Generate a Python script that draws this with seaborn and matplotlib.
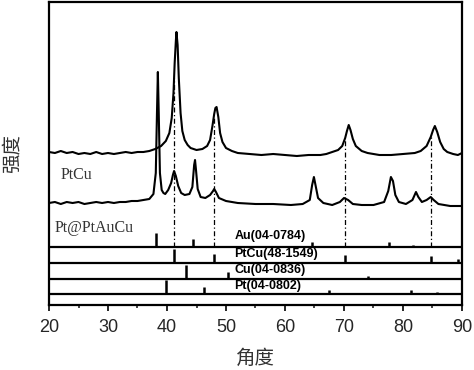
"""
XRD patterns of PtCu and Pt@PtAuCu with reference cards (Au, PtCu, Cu, Pt).
Saves out.png (474x370).
"""

import numpy as np
import pandas as pd
import matplotlib
matplotlib.use("Agg")
import matplotlib.pyplot as plt
import seaborn as sns
from matplotlib.ticker import MultipleLocator


# --- measured patterns (2theta, intensity above each curve's own baseline) ---
ptcu_angle = [20, 21, 22, 23, 24, 25, 26, 27, 28, 29, 30, 31, 32, 33, 34, 35, 36, 37,
              38, 39, 39.8, 40.4, 40.8, 41.1, 41.3, 41.5, 41.6, 41.8, 42.0, 42.3,
              42.6, 43, 43.5, 44, 45, 46, 46.8, 47.3, 47.7, 48.0, 48.2, 48.4, 48.7,
              49.0, 49.4, 50, 51, 52, 54, 56, 58, 60, 62, 64, 66, 67, 68, 69, 69.7,
              70.2, 70.5, 70.8, 71.1, 71.5, 72, 73, 74, 76, 78, 80, 82, 83, 84, 84.7,
              85.1, 85.4, 85.8, 86.3, 86.9, 87.5, 88.5, 89.3, 90]
ptcu_int = [1, 0, 2, 0, 1, -1, 0, -1, 1, -1, 0, -1, 0, 1, 0, 1, 1, 2,
            4, 7, 12, 20, 35, 60, 90, 112, 121, 108, 75, 40,
            22, 13, 8, 5, 3, 4, 7, 13, 27, 39, 45, 46, 36,
            20, 11, 5, 2, 0, -1, -2, -1, -2, -3, -2, -2, -1, 1, 3, 7,
            15, 22, 28, 23, 14, 7, 2, 0, -2, -2, -1, 0, 2, 7, 16,
            23, 27, 21, 11, 4, 1, -1, -2, 0]

pt_ptaucu_angle = [20, 21, 22, 23, 24, 25, 26, 27, 28, 29, 30, 31, 32, 33, 34, 35, 36,
                   37, 37.7, 38.1, 38.3, 38.45, 38.6, 38.8, 39.1, 39.4, 39.7, 40.2,
                   40.7, 41.0, 41.2, 41.5, 41.9, 42.4, 43, 43.8, 44.3, 44.6, 44.75,
                   44.9, 45.2, 45.7, 46.5, 47.3, 47.8, 48.0, 48.3, 48.8, 50, 52, 55,
                   58, 61, 63, 64.2, 64.6, 64.9, 65.2, 65.6, 66.5, 68, 69.3, 70.0,
                   70.7, 71.5, 73, 75, 76.8, 77.5, 77.95, 78.3, 78.7, 79.3, 80.5, 81.6,
                   82.2, 82.6, 83.2, 84.0, 84.7, 85.2, 86, 87, 88, 89, 90]
pt_ptaucu_int = [0, 1, -1, 1, 0, 1, -1, 0, 1, 0, 1, 0, 1, 1, 2, 2, 3,
                 4, 9, 30, 90, 131, 90, 30, 13, 10, 9, 13,
                 20, 28, 32, 27, 17, 10, 8, 9, 16, 38, 43,
                 34, 14, 6, 5, 8, 12, 14, 11, 5, 2, 0, -1,
                 -1, -2, -1, 3, 18, 26, 17, 5, 0, -2, 1, 5,
                 3, -1, -2, -2, 1, 12, 26, 22, 8, 1, -1, 3,
                 11, 6, 1, 3, 6, 3, -1, -2, -3, -3, -3]

# --- reference stick patterns (2theta, relative height) ---
au_pos = [38.18, 44.39, 64.58, 77.55, 81.72]
au_h = [14, 8, 5, 5, 2]
ptcu_ref_pos = [41.2, 47.9, 70.1, 84.7, 89.4]
ptcu_ref_h = [14, 9, 8, 7, 4]
cu_pos = [43.3, 50.4, 74.1]
cu_h = [14, 7, 3]
pt_pos = [39.76, 46.24, 67.45, 81.29, 85.71]
pt_h = [14, 7, 4, 4, 2]

card_names = ["Au(04-0784)", "PtCu(48-1549)", "Cu(04-0836)", "Pt(04-0802)"]
guide_pos = [41.2, 47.9, 70.1, 84.7]   # dash-dot guides from PtCu peaks to card

# layout (y in axes-pixel units)
PTCU_BASE = 152
PTAUCU_BASE = 102
CARD_BASES = [58, 42.5, 26.5, 11]
CARD_TEXT_LIFT = [7.5, 5, 6, 5]


sns.set_theme(style="white")
plt.rcParams["font.family"] = ["Liberation Sans", "Noto Sans CJK SC", "DejaVu Sans"]

fig = plt.figure(figsize=(4.74, 3.70), dpi=100)
ax = fig.add_axes([49 / 474, 65 / 370, 413 / 474, 303 / 370])

top = pd.DataFrame({"angle": ptcu_angle, "y": np.array(ptcu_int) + PTCU_BASE})
low = pd.DataFrame({"angle": pt_ptaucu_angle,
                    "y": np.array(pt_ptaucu_int) + PTAUCU_BASE})
sns.lineplot(data=top, x="angle", y="y", color="black", lw=1.5, ax=ax)
sns.lineplot(data=low, x="angle", y="y", color="black", lw=1.5, ax=ax)

# reference cards
cards = [(au_pos, au_h), (ptcu_ref_pos, ptcu_ref_h), (cu_pos, cu_h), (pt_pos, pt_h)]
for (pos, h), base, lift, name in zip(cards, CARD_BASES, CARD_TEXT_LIFT, card_names):
    ax.axhline(base, color="black", lw=1.6)
    ax.vlines(pos, base, base + np.array(h), color="black", lw=1.8)
    ax.text(51.4, base + lift, name, fontsize=9, fontweight="bold",
            ha="left", va="baseline", color="black")

# guides from the PtCu peaks down to the PtCu card
guide_top = np.interp(guide_pos, ptcu_angle, ptcu_int) + PTCU_BASE
ax.vlines(guide_pos, CARD_BASES[0], guide_top, color="black", lw=0.9,
          linestyles=(0, (4, 2, 1, 2)))

ax.text(21.9, 130, "PtCu", family="Liberation Serif", fontsize=11.5,
        color="#333333", va="center")
ax.text(20.9, 77, "Pt@PtAuCu", family="Liberation Serif", fontsize=11.5,
        color="#333333", va="center")

ax.set_xlim(20, 90)
ax.set_ylim(0, 303)
ax.set_yticks([])
ax.xaxis.set_major_locator(MultipleLocator(10))
ax.xaxis.set_minor_locator(MultipleLocator(5))
ax.tick_params(axis="x", which="major", direction="out", length=4, width=1.4,
               labelsize=13, pad=6, bottom=True)
ax.tick_params(axis="x", which="minor", direction="out", length=2.5, width=1.2,
               bottom=True)
for s in ax.spines.values():
    s.set_linewidth(1.6)
    s.set_color("black")

ax.set_xlabel("角度", family=["Noto Sans CJK SC", "DejaVu Sans"], fontsize=14,
              color="#333333")
ax.set_ylabel("强度", family=["Noto Sans CJK SC", "DejaVu Sans"], fontsize=14,
              color="#333333")
ax.xaxis.set_label_coords(0.5, -0.14)
ax.yaxis.set_label_coords(-0.065, 0.5)

fig.savefig("out.png", dpi=100)
